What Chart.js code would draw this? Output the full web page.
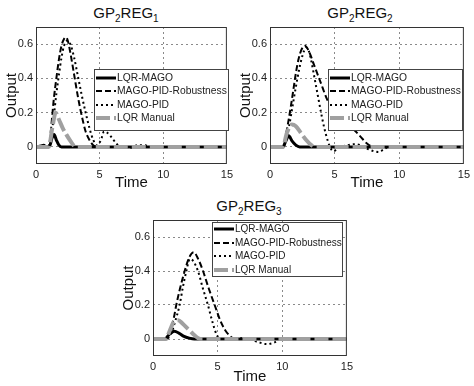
<!DOCTYPE html>
<html>
<head>
<meta charset="utf-8">
<script src="https://cdn.jsdelivr.net/npm/chart.js@4"></script>
<style>
  body { margin: 0; width: 474px; height: 386px; position: relative; overflow: hidden; background: #fff; font-family: "Liberation Sans", Arial, sans-serif; }
  canvas { position: absolute; }
  .ttl { position: absolute; width: 120px; text-align: center; font-size: 15px; line-height: 15px; color: #111; }
  .ttl span { font-size: 10px; vertical-align: -4px; }
</style>
</head>
<body>
<div class="ttl" style="left:66px;top:5px">GP<span>2</span>REG<span>1</span></div>
<div class="ttl" style="left:300px;top:5px">GP<span>2</span>REG<span>2</span></div>
<div class="ttl" style="left:189px;top:198px">GP<span>2</span>REG<span>3</span></div>
<canvas id="c1" width="237" height="192" style="left:0;top:0"></canvas>
<canvas id="c2" width="240" height="192" style="left:234px;top:0"></canvas>
<canvas id="c3" width="240" height="196" style="left:117px;top:190px"></canvas>
<script>
// axes
const xTicks = [0, 5, 10, 15];
const yTicks = [0, 0.2, 0.4, 0.6];
const seriesNames = ["LQR-MAGO", "MAGO-PID-Robustness", "MAGO-PID", "LQR Manual"];

// GP2REG1
const r1LqrT = [0, 0.4, 0.6, 0.8, 1.1, 1.25, 1.42, 1.6, 1.8, 2.0, 15];
const r1LqrY = [0, 0.005, 0.01, 0, 0.01, 0.05, 0.072, 0.04, 0.01, 0, 0];
const r1RobT = [0, 1.0, 1.2, 1.4, 1.6, 1.8, 2.0, 2.2, 2.35, 2.5, 2.7, 3.0, 3.3, 3.6, 3.9, 4.2, 4.5, 5.0, 15];
const r1RobY = [0, 0, 0.12, 0.28, 0.4, 0.51, 0.59, 0.63, 0.64, 0.62, 0.55, 0.42, 0.29, 0.18, 0.09, 0.04, 0.01, 0, 0];
const r1PidT = [0, 1.0, 1.2, 1.4, 1.6, 1.8, 2.0, 2.2, 2.45, 2.7, 3.0, 3.3, 3.6, 3.9, 4.2, 4.5, 4.8, 5.1, 5.35, 5.65, 6.0, 6.3, 6.7, 7.5, 8.0, 8.5, 9.0, 9.5, 15];
const r1PidY = [0, 0, 0.06, 0.18, 0.31, 0.42, 0.52, 0.59, 0.62, 0.6, 0.52, 0.41, 0.3, 0.2, 0.11, 0.04, 0.01, 0.04, 0.09, 0.08, 0.05, 0.02, 0, -0.005, 0.01, 0.01, 0, 0, 0];
const r1ManT = [0, 1.0, 1.3, 1.55, 1.8, 2.1, 2.4, 2.7, 3.0, 3.2, 15];
const r1ManY = [0, 0, 0.12, 0.2, 0.16, 0.11, 0.07, 0.035, 0.005, 0, 0];

// GP2REG2
const r2LqrT = [0, 1.0, 1.2, 1.45, 1.7, 2.0, 2.3, 15];
const r2LqrY = [0, 0, 0.03, 0.065, 0.035, 0.01, 0, 0];
const r2RobT = [0, 1.0, 1.2, 1.4, 1.6, 1.8, 2.0, 2.2, 2.45, 2.7, 3.0, 3.4, 3.9, 4.4, 4.9, 5.5, 6.0, 6.5, 7.0, 7.5, 8.0, 15];
const r2RobY = [0, 0, 0.06, 0.14, 0.23, 0.33, 0.43, 0.51, 0.57, 0.59, 0.56, 0.48, 0.38, 0.28, 0.21, 0.165, 0.135, 0.1, 0.06, 0.02, 0, 0];
const r2PidT = [0, 1.0, 1.25, 1.5, 1.75, 2.0, 2.25, 2.5, 2.8, 3.0, 3.2, 3.45, 3.7, 3.95, 4.2, 4.45, 4.7, 4.95, 5.2, 5.5, 6.0, 6.5, 7.0, 7.5, 8.0, 8.4, 8.8, 9.2, 15];
const r2PidY = [0, 0, 0.04, 0.13, 0.24, 0.35, 0.45, 0.53, 0.58, 0.56, 0.5, 0.4, 0.3, 0.2, 0.11, 0.04, -0.01, -0.025, -0.01, 0, 0.01, 0.015, 0.01, -0.01, -0.025, -0.03, -0.015, 0, 0];
const r2ManT = [0, 1.0, 1.3, 1.7, 2.0, 2.4, 2.8, 3.2, 3.5, 15];
const r2ManY = [0, 0, 0.08, 0.13, 0.12, 0.08, 0.04, 0.01, 0, 0];

// GP2REG3
const r3LqrT = [0, 0.9, 1.3, 1.65, 2.0, 2.4, 2.8, 3.2, 15];
const r3LqrY = [0, 0, 0.03, 0.045, 0.035, 0.015, 0.005, 0, 0];
const r3RobT = [0, 1.0, 1.3, 1.6, 1.8, 2.1, 2.45, 2.8, 3.15, 3.5, 3.87, 4.3, 4.77, 5.2, 5.6, 6.0, 6.3, 15];
const r3RobY = [0, 0, 0.04, 0.12, 0.2, 0.3, 0.4, 0.48, 0.51, 0.47, 0.4, 0.3, 0.2, 0.11, 0.05, 0.015, 0, 0];
const r3PidT = [0, 1.0, 1.4, 1.7, 2.06, 2.3, 2.58, 2.85, 3.1, 3.48, 3.85, 4.25, 4.6, 4.9, 5.2, 6.0, 7.0, 7.6, 8.2, 8.8, 9.4, 9.9, 15];
const r3PidY = [0, 0, 0.03, 0.1, 0.2, 0.3, 0.4, 0.47, 0.46, 0.4, 0.3, 0.2, 0.1, 0.03, 0, 0.005, 0.005, -0.005, -0.02, -0.03, -0.02, 0, 0];
const r3ManT = [0, 1.0, 1.3, 1.6, 1.95, 2.3, 2.7, 3.1, 3.5, 3.8, 15];
const r3ManY = [0, 0, 0.05, 0.1, 0.11, 0.09, 0.06, 0.03, 0.005, 0, 0];

// line styles, same order as seriesNames
const lineStyles = [
  { color: "#000", width: 3, dash: [] },
  { color: "#000", width: 2, dash: [6, 3] },
  { color: "#000", width: 2, dash: [2, 3] },
  { color: "#a0a0a0", width: 4, dash: [14, 4] }
];

Chart.defaults.font.family = '"Liberation Sans", Arial, sans-serif';
Chart.defaults.color = "#222";

const pts = (t, y) => t.map((v, i) => ({ x: v, y: y[i] }));

// box round the plot + legend inside it
const boxPlugin = {
  id: "box",
  afterDatasetsDraw(chart, args, opts) {
    const ctx = chart.ctx, a = chart.chartArea;
    ctx.save();
    ctx.strokeStyle = "#333";
    ctx.lineWidth = 1;
    ctx.setLineDash([]);
    ctx.strokeRect(a.left + 0.5, a.top + 0.5, a.right - a.left - 1, a.bottom - a.top - 1);
    const L = opts.legend;
    const x0 = a.left + L.dx, y0 = a.top + L.dy;
    ctx.fillStyle = "#fff";
    ctx.fillRect(x0, y0, L.w, L.h);
    ctx.strokeStyle = "#444";
    ctx.strokeRect(x0 + 0.5, y0 + 0.5, L.w, L.h);
    chart.data.datasets.forEach((ds, i) => {
      const y = Math.round(y0 + L.first + i * L.step);
      ctx.beginPath();
      ctx.setLineDash(ds.borderDash);
      ctx.lineWidth = ds.borderWidth;
      ctx.strokeStyle = ds.borderColor;
      ctx.moveTo(x0 + 2, y);
      ctx.lineTo(x0 + 22, y);
      ctx.stroke();
      ctx.setLineDash([]);
      ctx.fillStyle = "#222";
      ctx.font = L.font + 'px "Liberation Sans", Arial, sans-serif';
      ctx.textBaseline = "middle";
      ctx.fillText(ds.label, x0 + 23, y);
    });
    ctx.restore();
  }
};

function makeChart(id, series, pad, xH, legend) {
  const datasets = series.map((s, i) => ({
    label: seriesNames[i],
    data: pts(s[0], s[1]),
    borderColor: lineStyles[i].color,
    borderWidth: lineStyles[i].width,
    borderDash: lineStyles[i].dash,
    pointRadius: 0,
    cubicInterpolationMode: "monotone",
    fill: false,
    order: 3 - i
  }));
  return new Chart(document.getElementById(id), {
    type: "line",
    data: { datasets },
    options: {
      responsive: false,
      animation: false,
      layout: { padding: { top: pad.top, right: pad.right, left: 0, bottom: 0 } },
      scales: {
        x: {
          type: "linear", min: 0, max: 15,
          afterBuildTicks: s => { s.ticks = xTicks.map(v => ({ value: v })); },
          afterFit: s => { s.height = xH; },
          ticks: { padding: 4, maxRotation: 0, autoSkip: false, font: { size: 11 }, color: "#222" },
          grid: { color: c => (c.tick && (c.tick.value === 0 || c.tick.value === 15)) ? "rgba(0,0,0,0)" : "#8a8a8a", drawTicks: false },
          border: { display: false, dash: [2, 3] },
          title: { display: true, text: "Time", font: { size: 15 }, color: "#111", padding: { top: 0, bottom: 0 } }
        },
        y: {
          type: "linear", min: -0.1, max: 0.7,
          afterBuildTicks: s => { s.ticks = yTicks.map(v => ({ value: v })); },
          afterFit: s => { s.width = 36; },
          ticks: { padding: 3, font: { size: 11 }, color: "#222", callback: v => String(v) },
          grid: { color: "#8a8a8a", drawTicks: false },
          border: { display: false, dash: [2, 3] },
          title: { display: true, text: "Output", font: { size: 15 }, color: "#111", padding: { top: 3, bottom: 0 } }
        }
      },
      plugins: {
        legend: { display: false },
        tooltip: { enabled: false },
        box: { legend }
      }
    },
    plugins: [boxPlugin]
  });
}

makeChart("c1",
  [[r1LqrT, r1LqrY], [r1RobT, r1RobY], [r1PidT, r1PidY], [r1ManT, r1ManY]],
  { top: 27, right: 7 }, 28,
  { dx: 58, dy: 42, w: 134, h: 61, first: 9, step: 13.3, font: 10.3 });

makeChart("c2",
  [[r2LqrT, r2LqrY], [r2RobT, r2RobY], [r2PidT, r2PidY], [r2ManT, r2ManY]],
  { top: 27, right: 9 }, 28,
  { dx: 58, dy: 42, w: 134, h: 61, first: 9, step: 13.3, font: 10.3 });

makeChart("c3",
  [[r3LqrT, r3LqrY], [r3RobT, r3RobY], [r3PidT, r3PidY], [r3ManT, r3ManY]],
  { top: 30, right: 10 }, 30,
  { dx: 59, dy: 2, w: 130, h: 54, first: 7, step: 13.7, font: 10 });
</script>
</body>
</html>
